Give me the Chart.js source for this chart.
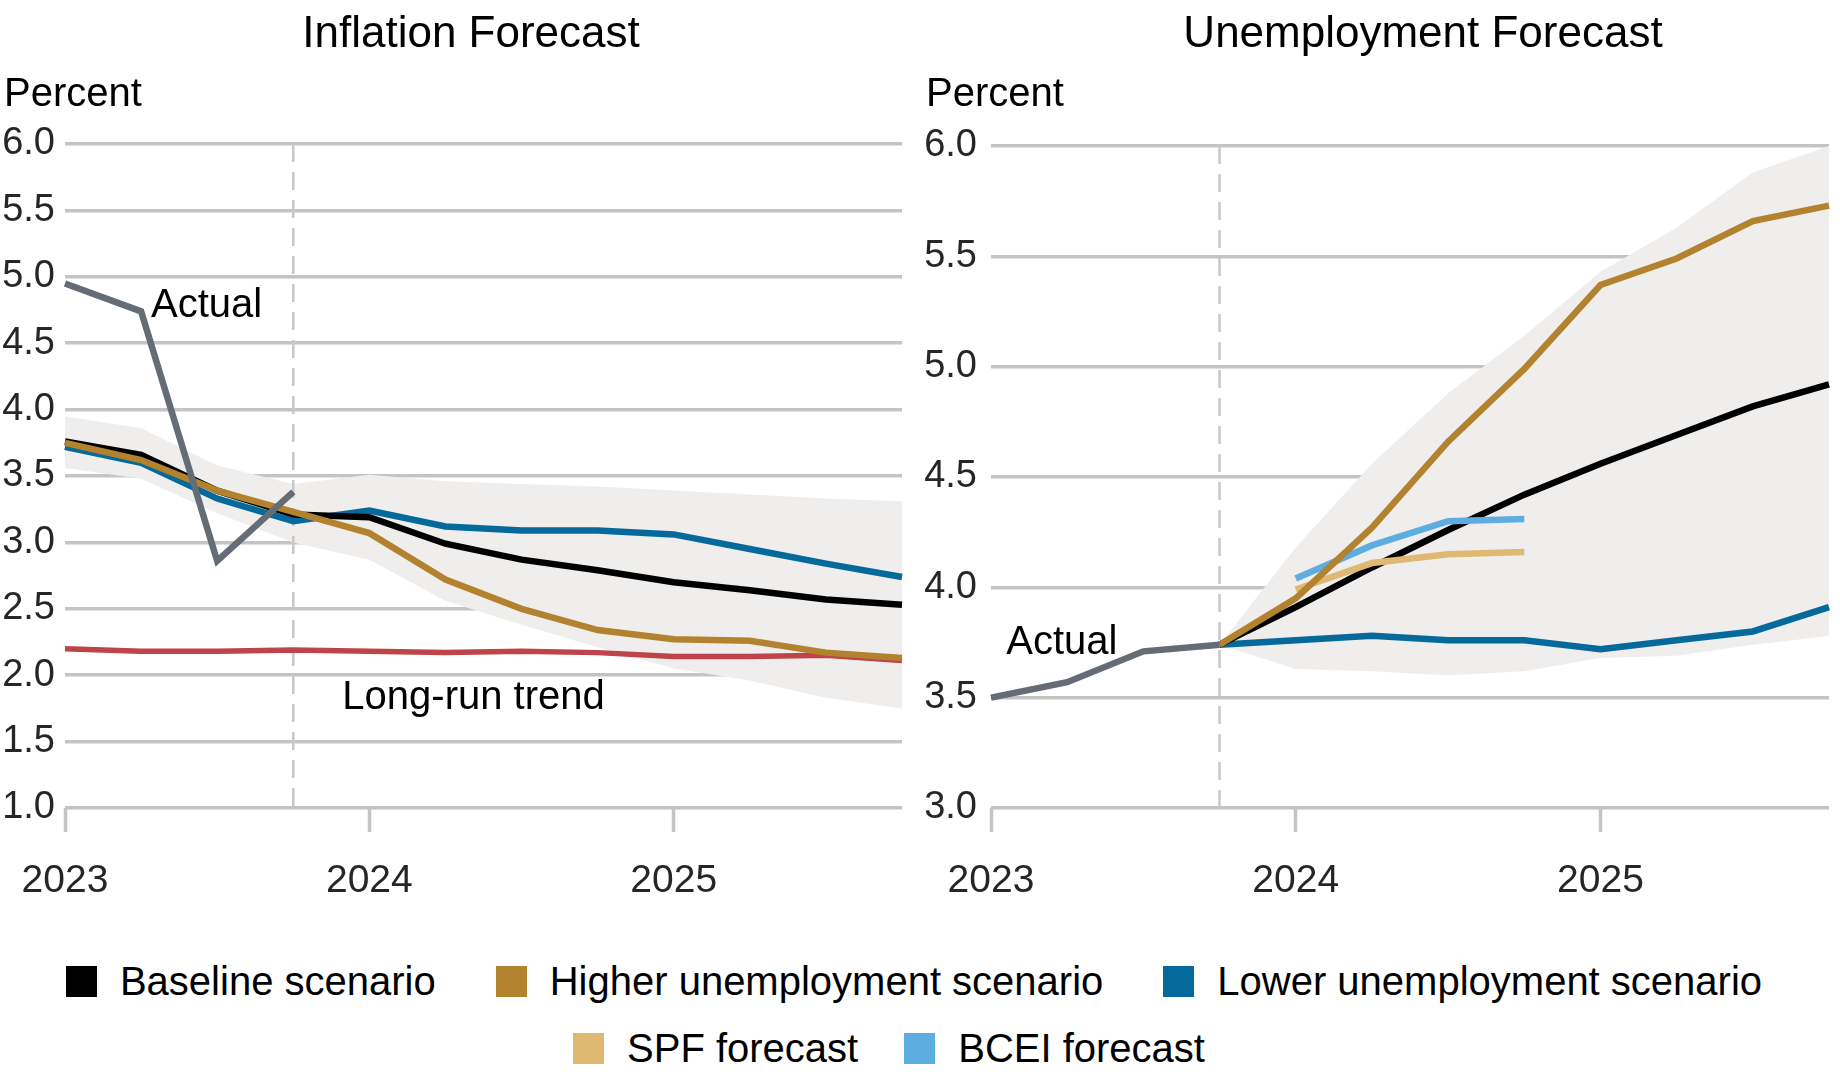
<!DOCTYPE html>
<html>
<head>
<meta charset="utf-8">
<script src="https://cdn.jsdelivr.net/npm/chart.js@4.4.1/dist/chart.umd.min.js"></script>
<style>
  html, body { margin: 0; padding: 0; background: #fff; }
  body { width: 1840px; height: 1072px; position: relative; overflow: hidden; font-family: "Liberation Sans", Arial, sans-serif; }
  canvas { position: absolute; top: 0; }
  #left { left: 0; }
  #right { left: 920px; }
  .row { position: absolute; left: 0; width: 1840px; height: 50px; display: flex; justify-content: center; align-items: center; font-size: 40px; color: #000; }
  .item { display: flex; align-items: center; }
  .box { width: 31px; height: 31px; margin-right: 23px; }
</style>
</head>
<body>
<canvas id="left" width="920" height="900"></canvas>
<canvas id="right" width="920" height="900"></canvas>
<div class="row" id="legend1" style="top:956px; transform: translateX(-6px)"></div>
<div class="row" id="legend2" style="top:1023px; transform: translateX(-31px)"></div>
<script>
const quarters = ["2023Q1", "2023Q2", "2023Q3", "2023Q4", "2024Q1", "2024Q2",
                  "2024Q3", "2024Q4", "2025Q1", "2025Q2", "2025Q3", "2025Q4"];

// inflation panel
const inflActual   = [4.95, 4.74, 2.86, 3.38, null, null, null, null, null, null, null, null];
const inflBaseline = [3.76, 3.66, 3.39, 3.21, 3.19, 2.99, 2.87, 2.79, 2.70, 2.64, 2.57, 2.53];
const inflHigher   = [3.75, 3.62, 3.39, 3.23, 3.07, 2.72, 2.50, 2.34, 2.27, 2.26, 2.17, 2.13];
const inflLower    = [3.72, 3.60, 3.33, 3.16, 3.24, 3.12, 3.09, 3.09, 3.06, 2.95, 2.84, 2.74];
const inflTrend    = [2.20, 2.18, 2.18, 2.19, 2.18, 2.17, 2.18, 2.17, 2.14, 2.14, 2.15, 2.11];
const inflBandHi   = [3.95, 3.86, 3.58, 3.44, 3.51, 3.46, 3.44, 3.42, 3.39, 3.36, 3.33, 3.31];
const inflBandLo   = [3.56, 3.48, 3.22, 3.00, 2.87, 2.56, 2.38, 2.21, 2.05, 1.96, 1.83, 1.75];

// unemployment panel
const unActual   = [3.50, 3.57, 3.71, 3.74, null, null, null, null, null, null, null, null];
const unBaseline = [null, null, null, 3.74, 3.91, 4.09, 4.26, 4.42, 4.56, 4.69, 4.82, 4.92];
const unHigher   = [null, null, null, 3.74, 3.95, 4.27, 4.66, 4.99, 5.37, 5.49, 5.66, 5.73];
const unLower    = [null, null, null, 3.74, 3.76, 3.78, 3.76, 3.76, 3.72, 3.76, 3.80, 3.91];
const unBandHi   = [null, null, null, 3.74, 4.18, 4.56, 4.88, 5.14, 5.43, 5.63, 5.88, 6.00];
const unBandLo   = [null, null, null, 3.74, 3.63, 3.62, 3.60, 3.62, 3.68, 3.69, 3.74, 3.78];
const unSpf      = [null, null, null, null, 3.99, 4.11, 4.15, 4.16, null, null, null, null];
const unBcei     = [null, null, null, null, 4.04, 4.19, 4.30, 4.31, null, null, null, null];

const inflTicks = [1, 6];
const unTicks = [3, 6];
const forecastStart = 3; // 2023Q4

const colors = {
  actual: "#646c75",
  baseline: "#000000",
  higher: "#b3822e",
  lower: "#05699b",
  trend: "#be4449",
  spf: "#dfb872",
  bcei: "#5eade0",
  band: "#efeeed",
  grid: "#c4c4c4"
};

const legendItems = [
  ["Baseline scenario", colors.baseline, 1],
  ["Higher unemployment scenario", colors.higher, 1],
  ["Lower unemployment scenario", colors.lower, 1],
  ["SPF forecast", colors.spf, 2],
  ["BCEI forecast", colors.bcei, 2]
];

Chart.defaults.font.family = '"Liberation Sans", Arial, sans-serif';
Chart.defaults.color = "#262626";

function line(data, color, width) {
  return { data: data, borderColor: color, borderWidth: width || 6.5, pointRadius: 0, tension: 0, fill: false };
}

const panelText = {
  id: "panelText",
  beforeDatasetsDraw(chart, args, opts) {
    const { ctx, chartArea } = chart;
    const x = chart.scales.x.getPixelForValue(forecastStart);
    ctx.save();
    ctx.strokeStyle = "#c8c8c8";
    ctx.lineWidth = 2.5;
    ctx.setLineDash([18, 10]);
    ctx.beginPath();
    ctx.moveTo(x, chartArea.top);
    ctx.lineTo(x, chartArea.bottom);
    ctx.stroke();
    ctx.restore();
  },
  afterDraw(chart, args, opts) {
    const { ctx } = chart;
    const xs = chart.scales.x, ys = chart.scales.y;
    ctx.save();
    ctx.fillStyle = "#000";
    ctx.textBaseline = "alphabetic";
    ctx.font = '44px "Liberation Sans", Arial, sans-serif';
    ctx.textAlign = "center";
    ctx.fillText(opts.title, opts.titleX, 47);
    ctx.textAlign = "left";
    ctx.font = '40px "Liberation Sans", Arial, sans-serif';
    ctx.fillText("Percent", opts.percentX, 106);
    opts.notes.forEach(function (n) {
      ctx.fillText(n.text, xs.getPixelForValue(n.x), ys.getPixelForValue(n.y));
    });
    ctx.restore();
  }
};

function makeChart(id, datasets, yRange, axisWidth, labelPad, padRight, padTop, textOpts) {
  const ctx = document.getElementById(id).getContext("2d");
  return new Chart(ctx, {
    type: "line",
    data: { labels: quarters, datasets: datasets },
    options: {
      responsive: false,
      animation: false,
      layout: { autoPadding: false, padding: { top: padTop, right: padRight, left: 0, bottom: 0 } },
      plugins: {
        legend: { display: false },
        tooltip: { enabled: false },
        filler: { drawTime: "beforeDatasetsDraw" },
        panelText: textOpts
      },
      scales: {
        x: {
          type: "category",
          offset: false,
          border: { display: false },
          grid: {
            drawOnChartArea: false,
            drawTicks: true,
            tickLength: 24,
            tickWidth: 3.5,
            tickColor: (c) => (c.index % 4 === 0 ? colors.grid : "transparent")
          },
          ticks: {
            autoSkip: false,
            maxRotation: 0,
            padding: 4,
            font: { size: 39, lineHeight: 2.33 },
            callback: (v, i) => (i % 4 === 0 ? quarters[i].slice(0, 4) : "")
          },
          afterFit: (s) => { s.height = 92; }
        },
        y: {
          min: yRange[0],
          max: yRange[1],
          border: { display: false },
          grid: { color: colors.grid, lineWidth: 3.5, drawTicks: false },
          ticks: {
            stepSize: 0.5,
            padding: labelPad,
            font: { size: 38 },
            callback: (v) => v.toFixed(1)
          },
          afterFit: (s) => { s.width = axisWidth; }
        }
      }
    },
    plugins: [panelText]
  });
}

makeChart("left", [
  line(inflActual, colors.actual),
  line(inflHigher, colors.higher),
  line(inflBaseline, colors.baseline),
  line(inflLower, colors.lower),
  line(inflTrend, colors.trend, 5.5),
  { data: inflBandHi, borderWidth: 0, pointRadius: 0, tension: 0, backgroundColor: colors.band, fill: "+1" },
  { data: inflBandLo, borderWidth: 0, pointRadius: 0, tension: 0, fill: false }
], inflTicks, 65, 10, 18, 144, {
  title: "Inflation Forecast", titleX: 471, percentX: 4,
  notes: [{ text: "Actual", x: 1.13, y: 4.70 }, { text: "Long-run trend", x: 3.645, y: 1.745 }]
});

makeChart("right", [
  line(unActual, colors.actual),
  line(unHigher, colors.higher),
  line(unSpf, colors.spf),
  line(unBcei, colors.bcei),
  line(unBaseline, colors.baseline),
  line(unLower, colors.lower),
  { data: unBandHi, borderWidth: 0, pointRadius: 0, tension: 0, backgroundColor: colors.band, fill: "+1" },
  { data: unBandLo, borderWidth: 0, pointRadius: 0, tension: 0, fill: false }
], unTicks, 71, 14, 11, 146, {
  title: "Unemployment Forecast", titleX: 503, percentX: 6,
  notes: [{ text: "Actual", x: 0.2, y: 3.70 }]
});

legendItems.forEach(function (it, i) {
  const row = document.getElementById(it[2] === 1 ? "legend1" : "legend2");
  const el = document.createElement("div");
  el.className = "item";
  const next = legendItems[i + 1];
  if (next && next[2] === it[2]) el.style.marginRight = it[2] === 1 ? "60px" : "46px";
  el.innerHTML = '<span class="box" style="background:' + it[1] + '"></span><span>' + it[0] + "</span>";
  row.appendChild(el);
});
</script>
</body>
</html>
